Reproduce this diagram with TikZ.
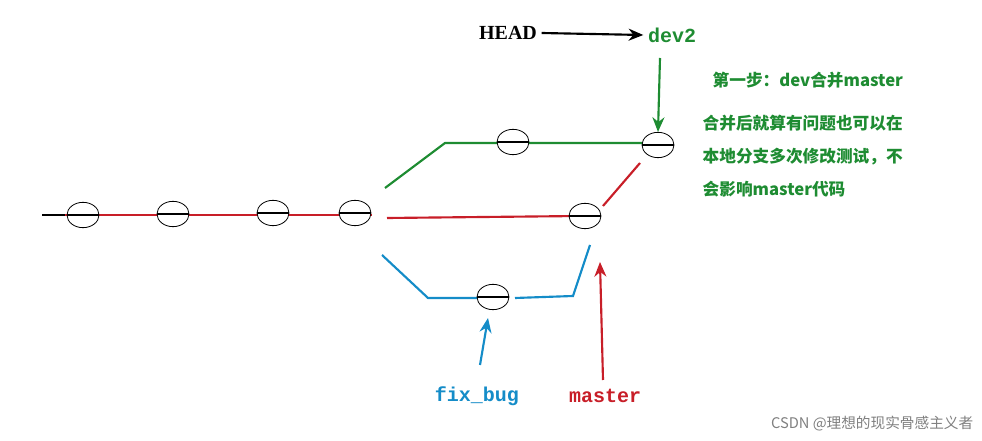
\documentclass[tikz,border=0pt]{standalone}
\usepackage{fontspec}
\setmainfont{Liberation Serif}
\newfontfamily\cjk{Noto Sans CJK SC}
\newfontfamily\mono{Liberation Mono}
\usetikzlibrary{arrows.meta,shapes.geometric}
\definecolor{gg}{RGB}{30,140,50}
\definecolor{rr}{RGB}{200,30,40}
\definecolor{bb}{RGB}{20,140,200}
\begin{document}
\begin{tikzpicture}[x=0.75pt,y=-0.75pt,
  cmt/.style={draw=black,fill=white,ellipse,minimum width=24pt,minimum height=19pt,inner sep=0pt,semithick,
    path picture={\draw[black,thick] (path picture bounding box.west) -- (path picture bounding box.east);}},
  br/.style={line width=1.6pt},
  arr/.style={line width=1.6pt,-{Stealth[length=11pt,width=9pt]}},
  lbl/.style={font=\mono\bfseries\fontsize{15}{18}\selectfont},
  zh/.style={font=\cjk\bfseries\fontsize{12.5}{15}\selectfont,text=gg,anchor=west}]
\useasboundingbox (0,0) rectangle (982,441);
\fill[white] (0,0) rectangle (982,441);
\coordinate (s) at (42,215); \coordinate (s1) at (65,215); \coordinate (e) at (372,215);
\draw[br] (s) -- (s1);
\draw[br,rr] (s1) -- (e);
\coordinate (g0) at (385,188); \coordinate (g1) at (445,143); \coordinate (g2) at (645,143);
\draw[br,gg] (g0) -- (g1) -- (g2);
\coordinate (r0) at (387,218); \coordinate (r1) at (580,216);
\draw[br,rr] (r0) -- (r1);
\coordinate (r2) at (603,206); \coordinate (r3) at (640,163);
\draw[br,rr] (r2) -- (r3);
\coordinate (b0) at (382,255); \coordinate (b1) at (428,298); \coordinate (b2) at (515,298);
\coordinate (b3) at (573,296); \coordinate (b4) at (590,245); \coordinate (bm) at (480,298);
\draw[br,bb] (b0) -- (b1) -- (bm);
\draw[br,bb] (b2) -- (b3) -- (b4);
\node[cmt] (c1) at (83,215) {};
\node[cmt] (c2) at (173,214) {};
\node[cmt] (c3) at (273,213) {};
\node[cmt] (c4) at (355,213) {};
\node[cmt] (c5) at (513,142) {};
\node[cmt] (c6) at (658,145) {};
\node[cmt] (c7) at (585,216) {};
\node[cmt] (c8) at (493,297) {};
\node[lbl,font=\bfseries\fontsize{15}{18}\selectfont] (head) at (508,33) {HEAD};
\node[lbl,text=gg] (dev) at (672,35) {dev2};
\draw[arr] (head.east) -- (dev.west);
\coordinate (da) at (660,58);
\draw[arr,gg] (da) -- (c6.north);
\node[lbl,text=bb] (fb) at (477,396) {fix\_bug};
\node[lbl,text=rr] (ms) at (605,396) {master};
\coordinate (fa) at (480,365); \coordinate (fa2) at (488,318);
\draw[arr,bb] (fa) -- (fa2);
\coordinate (ma) at (603,380); \coordinate (ma2) at (600,262);
\draw[arr,rr] (ma) -- (ma2);
\node[zh] (t1) at (708,80) {第一步：dev合并master};
\node[zh] (t2) at (698,123) {合并后就算有问题也可以在};
\node[zh] (t3) at (698,157) {本地分支多次修改测试，不};
\node[zh] (t4) at (698,189) {会影响master代码};
\node[font=\cjk\fontsize{11}{13}\selectfont,text=gray,anchor=east] (w) at (978,424) {CSDN @理想的现实骨感主义者};
\end{tikzpicture}
\end{document}
